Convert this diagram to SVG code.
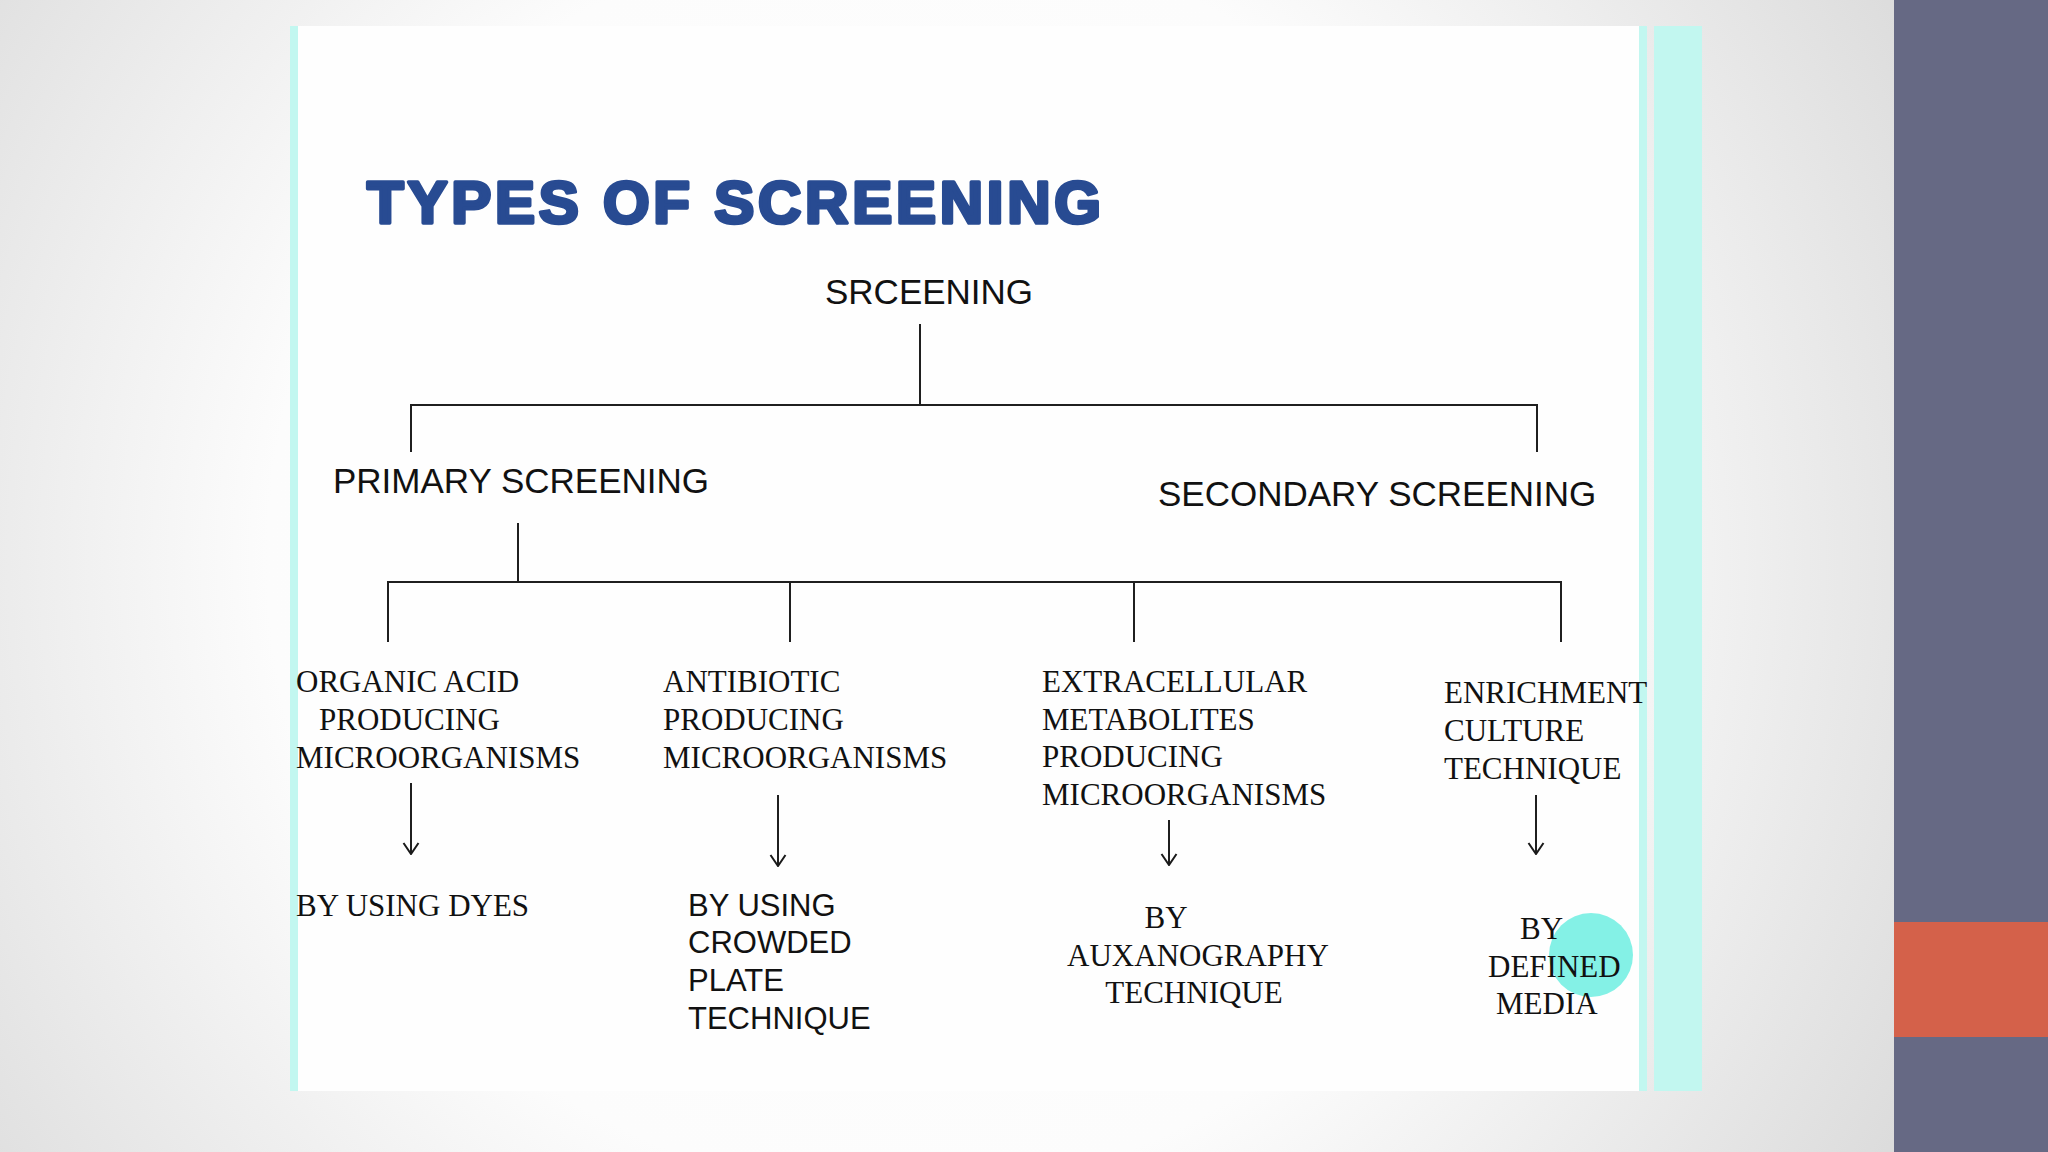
<svg xmlns="http://www.w3.org/2000/svg" width="2048" height="1152" viewBox="0 0 2048 1152">
<defs>
<radialGradient id="bg" cx="900" cy="560" r="1150" gradientUnits="userSpaceOnUse">
<stop offset="0" stop-color="#ffffff"/>
<stop offset="0.55" stop-color="#fcfcfc"/>
<stop offset="1" stop-color="#dcdcdc"/>
</radialGradient>
<marker id="ah" viewBox="-12 -9 13 18" refX="0" refY="0" markerWidth="13" markerHeight="18" markerUnits="userSpaceOnUse" orient="auto">
<path d="M-11,-7.5 L0,0 L-11,7.5" fill="none" stroke="#1a1a1a" stroke-width="2"/>
</marker>
<style>
.ln{stroke:#1f1f1f;stroke-width:2;fill:none}
.ar{stroke:#1f1f1f;stroke-width:2;fill:none;marker-end:url(#ah)}
.sans{font-family:"Liberation Sans",Arial,sans-serif;font-size:35px;fill:#111}
.sans2{font-family:"Liberation Sans",Arial,sans-serif;font-size:31px;fill:#111}
.serif{font-family:"Liberation Serif","Times New Roman",serif;font-size:31px;fill:#111}
.title{font-family:"Liberation Sans",Arial,sans-serif;font-size:60px;font-weight:bold;fill:#284b92;stroke:#284b92;stroke-width:3.6;stroke-linejoin:round}
.cyan{fill:#c2f7f0}
</style>
</defs>
<rect x="0" y="0" width="2048" height="1152" fill="url(#bg)"/>
<rect x="298" y="26" width="1341" height="1065" fill="#fefefe"/>
<rect class="cyan" x="290" y="26" width="8" height="1065"/>
<rect class="cyan" x="1639" y="26" width="8" height="1065"/>
<rect class="cyan" x="1654" y="26" width="48" height="1065"/>
<rect x="1894" y="0" width="154" height="1152" fill="#666984"/>
<rect x="1894" y="922" width="154" height="115" fill="#d4614a"/>

<g id="title"><text class="title" x="367" y="223" textLength="734" lengthAdjust="spacing">TYPES OF SCREENING</text></g>

<g id="connectors">
<path class="ln" d="M920,324 V405 M411,452 V405 H1537 V452"/>
<path class="ln" d="M518,523 V582 M388,642 V582 H1561 V642 M790,582 V642 M1134,582 V642"/>
<line class="ar" x1="411" y1="783" x2="411" y2="854"/>
<line class="ar" x1="778" y1="795" x2="778" y2="866"/>
<line class="ar" x1="1169" y1="820" x2="1169" y2="865"/>
<line class="ar" x1="1536" y1="795" x2="1536" y2="854"/>
</g>

<g id="root"><text class="sans" x="825" y="304">SRCEENING</text></g>
<g id="primary"><text class="sans" x="333" y="493">PRIMARY SCREENING</text></g>
<g id="secondary"><text class="sans" x="1158" y="506">SECONDARY SCREENING</text></g>

<g id="organic-acid"><text class="serif"><tspan x="296" y="692">ORGANIC ACID</tspan><tspan x="319" y="730">PRODUCING</tspan><tspan x="296" y="768">MICROORGANISMS</tspan></text></g>
<g id="antibiotic"><text class="serif"><tspan x="663" y="692">ANTIBIOTIC</tspan><tspan x="663" y="730">PRODUCING</tspan><tspan x="663" y="768">MICROORGANISMS</tspan></text></g>
<g id="extracellular"><text class="serif"><tspan x="1042" y="692">EXTRACELLULAR</tspan><tspan x="1042" y="730">METABOLITES</tspan><tspan x="1042" y="767">PRODUCING</tspan><tspan x="1042" y="805">MICROORGANISMS</tspan></text></g>
<g id="enrichment"><text class="serif"><tspan x="1444" y="703">ENRICHMENT</tspan><tspan x="1444" y="741">CULTURE</tspan><tspan x="1444" y="779">TECHNIQUE</tspan></text></g>

<g id="dyes"><text class="serif" x="296" y="916">BY USING DYES</text></g>
<g id="crowded-plate"><text class="sans2"><tspan x="688" y="916">BY USING</tspan><tspan x="688" y="953">CROWDED</tspan><tspan x="688" y="991">PLATE</tspan><tspan x="688" y="1029">TECHNIQUE</tspan></text></g>
<g id="auxanography"><text class="serif" text-anchor="middle"><tspan x="1166" y="928">BY</tspan><tspan x="1198" y="966">AUXANOGRAPHY</tspan><tspan x="1194" y="1003">TECHNIQUE</tspan></text></g>
<g id="defined-media">
<circle cx="1591" cy="955" r="42" fill="#6fefe2" opacity="0.85"/>
<text class="serif"><tspan x="1520" y="939">BY</tspan><tspan x="1488" y="977">DEFINED</tspan><tspan x="1496" y="1014">MEDIA</tspan></text>
</g>
</svg>
